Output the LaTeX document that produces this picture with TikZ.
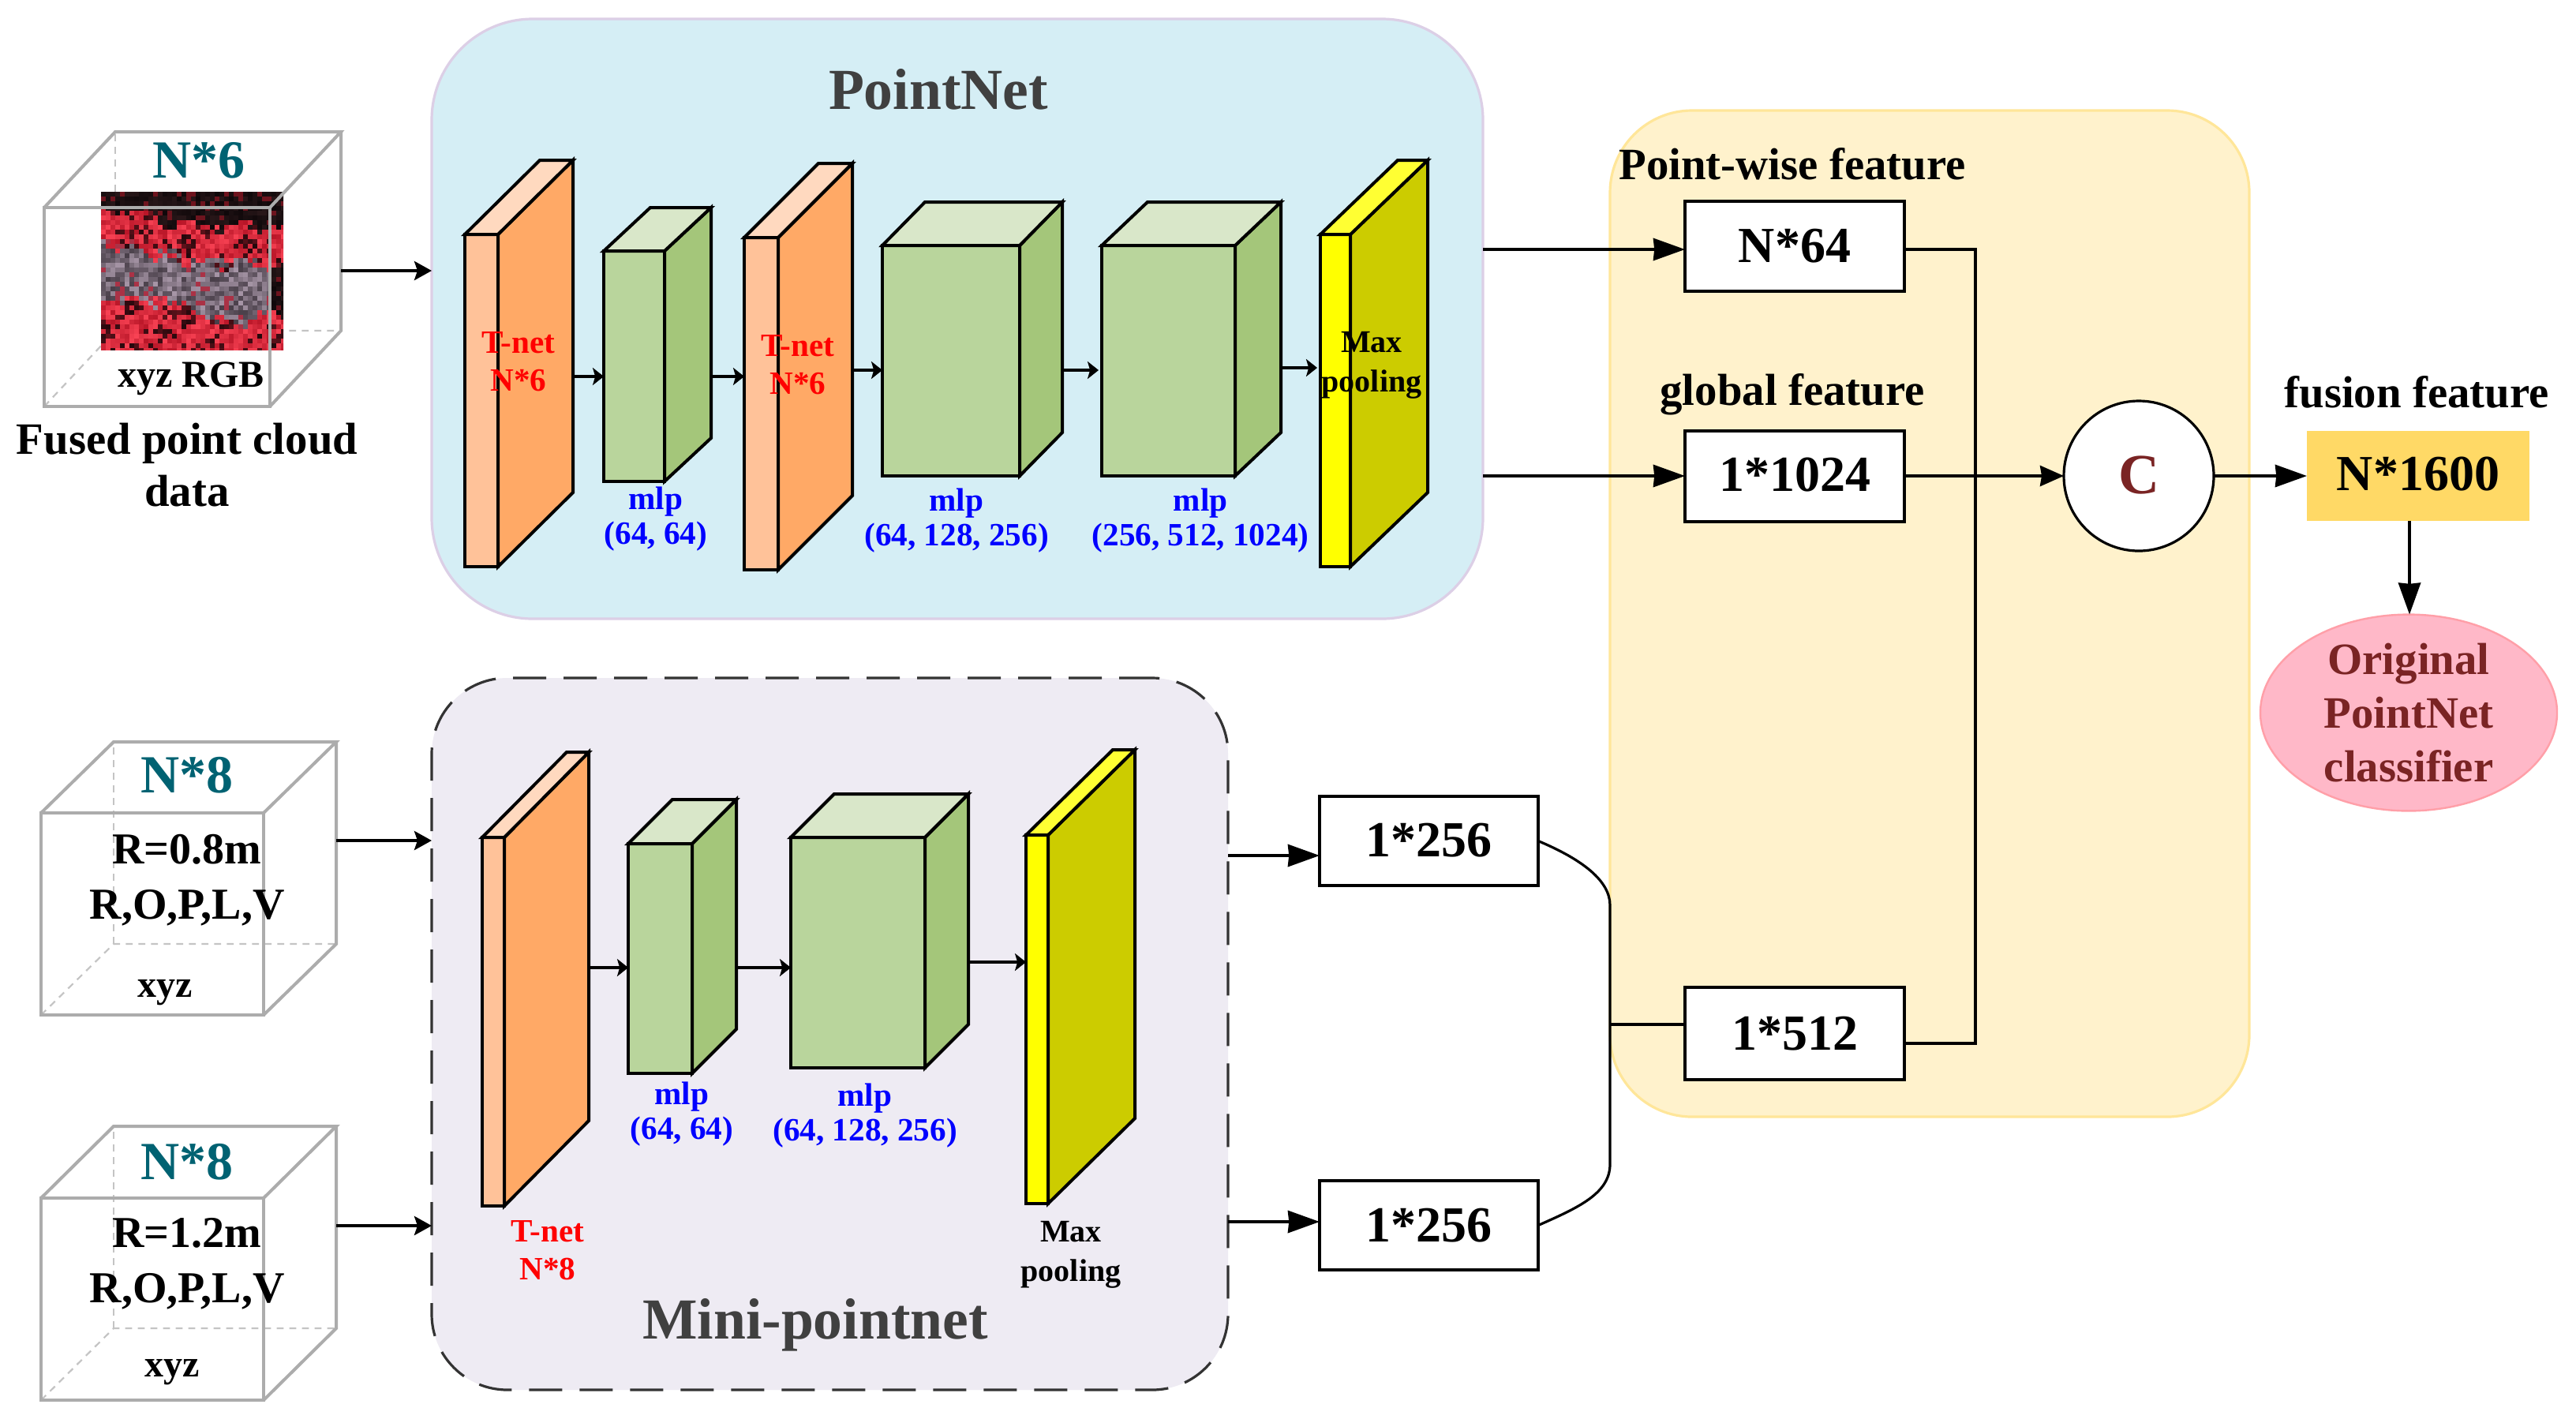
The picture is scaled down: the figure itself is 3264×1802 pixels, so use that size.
\documentclass[tikz,border=0pt]{standalone}
\usepackage{fontspec}
\setmainfont{Liberation Serif}
\usetikzlibrary{arrows.meta,shapes.geometric}
\definecolor{TF}{HTML}{FFC299}\definecolor{TS}{HTML}{FFA966}\definecolor{TT}{HTML}{FFD9BF}
\definecolor{MF}{HTML}{B9D59C}\definecolor{MS}{HTML}{A4C67A}\definecolor{MT}{HTML}{D9E7C9}
\definecolor{YF}{HTML}{FFFF00}\definecolor{YS}{HTML}{CCCC00}\definecolor{YT}{HTML}{FFFF33}
\definecolor{cubegrey}{HTML}{ACACAC}
\definecolor{cubefaint}{HTML}{C4C4C4}
\definecolor{teal6}{HTML}{006272}
\definecolor{darkred}{HTML}{7A2424}
\definecolor{panelyellow}{HTML}{FFF2CC}\definecolor{edgeyellow}{HTML}{FFE699}
\definecolor{panelblue}{HTML}{D5EEF5}\definecolor{edgelilac}{HTML}{DCCFE6}
\definecolor{panelmini}{HTML}{EEEBF3}
\definecolor{fusegold}{HTML}{FFD966}
\definecolor{pinkfill}{HTML}{FFB8C8}\definecolor{pinkedge}{HTML}{FF9FA8}
\newcommand{\fs}[2]{\fontsize{#1}{#2}\selectfont\bfseries}
\tikzset{
  x=0.25pt,y=-0.25pt,
  bbox/.style={inner sep=0pt,outer sep=0pt,draw=none},
  face/.style={draw=black,line width=1pt,line join=miter},
  cubeline/.style={draw=cubegrey,line width=1pt},
  cubedash/.style={draw=cubefaint,line width=0.55pt,dash pattern=on 2.2pt off 1.8pt},
  featbox/.style={draw=black,fill=white,line width=1.1pt,inner sep=0pt,outer sep=0pt,font=\fs{16}{19}},
  conn/.style={draw=black,line width=1pt},
  bigarrow/.style={conn,-{Stealth[length=10pt,width=7pt,inset=0.3pt]}},
  midarrow/.style={conn,-{Stealth[length=5.5pt,width=6pt,inset=1pt]}},
  tinyarrow/.style={conn,-{Stealth[length=3.5pt,width=5.5pt,inset=0.8pt]}},
  cubelabel/.style={inner sep=0pt,font=\fs{17}{20},text=teal6},
  blacklbl/.style={inner sep=0pt,align=center,font=\fs{14.2}{16.5}},
  smalllbl/.style={inner sep=0pt,align=center,font=\fs{12}{14}},
  tnetlbl/.style={inner sep=0pt,align=center,text=red,font=\fs{10.3}{12}},
  mlplbl/.style={inner sep=0pt,align=center,text=blue,font=\fs{10.3}{11}},
  poollbl/.style={inner sep=0pt,align=center,text=black,font=\fs{10}{12.5}},
  titlelbl/.style={inner sep=0pt,text=black!75,font=\fs{18.4}{22}},
}
% name, x, y (front top-left), w, h, dx, dy, palette
\newcommand{\prism}[8]{%
  \path[face,fill=#8F] (#2,#3) rectangle ({#2+#4},{#3+#5});
  \path[face,fill=#8S] ({#2+#4},#3) -- ({#2+#4+#6},{#3-#7}) -- ({#2+#4+#6},{#3+#5-#7}) -- ({#2+#4},{#3+#5}) -- cycle;
  \path[face,fill=#8T] (#2,#3) -- ({#2+#6},{#3-#7}) -- ({#2+#4+#6},{#3-#7}) -- ({#2+#4},#3) -- cycle;
  \node[bbox,minimum width={(#4+#6)*0.25pt},minimum height={(#5+#7)*0.25pt}] (#1) at ({#2+(#4+#6)/2},{#3+(#5-#7)/2}) {};
}
% back lines of a wire cube: x, y (front top-left), w, h, dx, dy
\newcommand{\cubeback}[6]{%
  \path[cubedash] (#1,{#2+#4}) -- ({#1+#5},{#2+#4-#6}) -- ({#1+#3+#5},{#2+#4-#6});
  \path[cubedash] ({#1+#5},{#2+#4-#6}) -- ({#1+#5},{#2-#6});
}
% name, x, y, w, h, dx, dy
\newcommand{\cubefront}[7]{%
  \path[cubeline,line join=miter] (#2,#3) rectangle ({#2+#4},{#3+#5});
  \path[cubeline,line join=miter] (#2,#3) -- ({#2+#6},{#3-#7}) -- ({#2+#4+#6},{#3-#7}) -- ({#2+#4},#3);
  \path[cubeline,line join=miter] ({#2+#4+#6},{#3-#7}) -- ({#2+#4+#6},{#3+#5-#7}) -- ({#2+#4},{#3+#5});
  \node[bbox,minimum width={(#4+#6)*0.25pt},minimum height={(#5+#7)*0.25pt}] (#1) at ({#2+(#4+#6)/2},{#3+(#5-#7)/2}) {};
}
% name, x1, y1, x2, y2, options, text
\newcommand{\bx}[7]{%
  \node[#6,minimum width={(#4-#2)*0.25pt},minimum height={(#5-#3)*0.25pt}] (#1) at ({(#2+#4)/2},{(#3+#5)/2}) {#7};
}
\begin{document}
\begin{tikzpicture}
\useasboundingbox[fill=white] (0,0) rectangle (3264,1802);

% panels
\bx{yellowpanel}{2040}{140}{2850}{1415}{bbox,draw=edgeyellow,fill=panelyellow,line width=0.8pt,rounded corners=26pt}{}
\bx{pointnetpanel}{547}{24}{1879}{784}{bbox,draw=edgelilac,fill=panelblue,line width=0.8pt,rounded corners=32pt}{}
\bx{minipanel}{547}{859}{1556}{1761}{bbox,draw=black!80,fill=panelmini,line width=0.8pt,dash pattern=on 10.5pt off 5.5pt,rounded corners=24pt}{}

% input cubes
\cubeback{56}{263}{286}{252}{90}{96}
\begin{scope}
  \clip (128,243) rectangle (359,443);
  \fill[black] (128,243) rectangle (359,443);
  \pgfmathsetseed{11}
  \foreach \ci in {0,...,38}{\foreach \cj in {0,...,33}{%
    \pgfmathsetmacro\uu{\ci/38}\pgfmathsetmacro\vv{\cj/33}
    \pgfmathsetmacro\vn{\vv+0.09*(rnd-0.5)}
    \pgfmathsetmacro\vt{0.08+0.12*min(\uu/0.4,1)+0.03*sin(\uu*1300)}
    \pgfmathsetmacro\gt{0.30+0.13*min(\uu/0.45,1)+0.03*max(\uu-0.45,0)+0.03*sin(\uu*1700)}
    \pgfmathsetmacro\gb{min(0.67+max(\uu-0.28,0)*0.36,0.83-max(\uu-0.74,0)*0.3)+0.03*sin(\uu*1500)}
    \pgfmathtruncatemacro\cat{ifthenelse(\vn<\vt,0,ifthenelse(\vn<\gt,1,ifthenelse(\vn<\gb,2,1)))}
    \pgfmathtruncatemacro\cat{ifthenelse(\uu>0.94 && \cat==2,0,\cat)}
    \pgfmathsetmacro\rr{rnd}\pgfmathsetmacro\rs{rnd}
    \pgfmathsetmacro\pdark{0.2+0.16*sin(\uu*1100+\vv*900)}
    \ifcase\cat
      \pgfmathtruncatemacro\cellR{ifthenelse(\rr<0.14,110,15+25*\rs)}
      \pgfmathtruncatemacro\cellG{ifthenelse(\rr<0.14,20,8+15*\rs)}
      \pgfmathtruncatemacro\cellB{ifthenelse(\rr<0.14,30,10+15*\rs)}
    \or
      \pgfmathtruncatemacro\cellR{ifthenelse(\rr<\pdark,35+60*\rs,185+65*\rs)}
      \pgfmathtruncatemacro\cellG{ifthenelse(\rr<\pdark,8+10*\rs,22+45*\rs)}
      \pgfmathtruncatemacro\cellB{ifthenelse(\rr<\pdark,12+15*\rs,40+45*\rs)}
    \or
      \pgfmathtruncatemacro\cellR{ifthenelse(\rr<0.08,170,72+95*\rs)}
      \pgfmathtruncatemacro\cellG{ifthenelse(\rr<0.08,50,62+88*\rs)}
      \pgfmathtruncatemacro\cellB{ifthenelse(\rr<0.08,70,72+95*\rs)}
    \fi
    \definecolor{cellc}{RGB}{\cellR,\cellG,\cellB}
    \fill[cellc] ({128+6*\ci},{243+6*\cj}) rectangle ({128+6*\ci+6.4},{243+6*\cj+6.4});
  }}
\end{scope}
\cubefront{cubeA}{56}{263}{286}{252}{90}{96}
\cubeback{52}{1030}{282}{256}{92}{90}
\cubefront{cubeB}{52}{1030}{282}{256}{92}{90}
\cubeback{52}{1518}{282}{256}{92}{91}
\cubefront{cubeC}{52}{1518}{282}{256}{92}{91}

\node[cubelabel] (lblN6) at (252,203) {N*6};
\node[smalllbl] (lblxyzrgb) at (242,480) {xyz RGB};
\node[blacklbl] (lblfused) at (237,589) {Fused point cloud\\data};
\node[cubelabel] (lblN8a) at (237,982) {N*8};
\node[blacklbl,font=\fs{14}{17.5}] (lblRa) at (237,1115) {R=0.8m\\R,O,P,L,V};
\node[smalllbl] (lblxyza) at (209,1258) {xyz};
\node[cubelabel] (lblN8b) at (237,1472) {N*8};
\node[blacklbl,font=\fs{14}{17.5}] (lblRb) at (237,1601) {R=1.2m\\R,O,P,L,V};
\node[smalllbl] (lblxyzb) at (218,1739) {xyz};

% PointNet
\prism{tA}{589}{297}{42}{421}{95}{94}{T}
\prism{mA}{765}{318}{77}{292}{59}{55}{M}
\prism{tB}{943}{301}{43}{421}{94}{94}{T}
\prism{mB}{1118}{311}{174}{292}{54}{55}{M}
\prism{mC}{1396}{311}{169}{292}{58}{55}{M}
\prism{pA}{1673}{297}{38}{421}{98}{94}{Y}
\node[titlelbl] (lblpn) at (1189,113) {PointNet};
\node[tnetlbl] (lblta) at (657,458) {T-net\\N*6};
\node[tnetlbl] (lbltb) at (1011,462) {T-net\\N*6};
\node[mlplbl] (lblma) at (831,658) {mlp\\(64, 64)};
\node[mlplbl] (lblmb) at (1212,660) {mlp\\(64, 128, 256)};
\node[mlplbl] (lblmc) at (1521,660) {mlp\\(256, 512, 1024)};
\node[poollbl] (lblpa) at (1738,463) {Max\\pooling};

% Mini-pointnet
\prism{tC}{611}{1061}{28}{467}{107}{108}{T}
\prism{mD}{796}{1069}{81}{291}{56}{56}{M}
\prism{mE}{1002}{1061}{170}{292}{55}{55}{M}
\prism{pB}{1300}{1058}{28}{467}{110}{108}{Y}
\node[titlelbl] (lblmini) at (1033,1679) {Mini-pointnet};
\node[tnetlbl] (lbltc) at (694,1584) {T-net\\N*8};
\node[mlplbl] (lblmd) at (864,1412) {mlp\\(64, 64)};
\node[mlplbl] (lblme) at (1096,1414) {mlp\\(64, 128, 256)};
\node[poollbl] (lblpb) at (1357,1590) {Max\\pooling};

% feature boxes
\bx{b64}{2135}{255}{2413}{369}{featbox}{N*64}
\bx{b1024}{2135}{546}{2413}{661}{featbox}{\raisebox{1.4pt}{1*1024}}
\bx{b512}{2135}{1251}{2413}{1368}{featbox}{\raisebox{0.3pt}{1*512}}
\bx{b256a}{1672}{1009}{1949}{1122}{featbox}{\raisebox{0.7pt}{1*256}}
\bx{b256b}{1672}{1496}{1949}{1609}{featbox}{\raisebox{0.3pt}{1*256}}
\bx{bfuse}{2923}{546}{3205}{660}{featbox,draw=none,fill=fusegold}{\raisebox{1.4pt}{N*1600}}
\node[draw=black,fill=white,circle,line width=0.8pt,inner sep=0pt,outer sep=0pt,minimum size=47.5pt,text=darkred,font=\fs{18}{20}] (concat) at (2710,603) {\raisebox{0.6pt}{C}};
\node[draw=pinkedge,fill=pinkfill,ellipse,line width=0.6pt,inner sep=0pt,outer sep=0pt,minimum width=94pt,minimum height=62pt,align=center,text=darkred,font=\fs{14.2}{17}] (classifier) at (3052,903) {Original\\PointNet\\classifier};
\node[blacklbl] (lblpw) at (2271,208) {Point-wise feature};
\node[blacklbl] (lblgf) at (2271,500) {global feature};
\node[blacklbl] (lblff) at (3062,497) {fusion feature};

% levels for connectors
\coordinate (lvA) at (0,343);
\coordinate (lvB) at (0,477);
\coordinate (lvC) at (0,469);
\coordinate (lvD) at (0,466);
\coordinate (lvE) at (0,316);
\coordinate (lvF) at (0,603);
\coordinate (lvG) at (0,1065);
\coordinate (lvH) at (0,1553);
\coordinate (lvI) at (0,1226);
\coordinate (lvJ) at (0,1219);
\coordinate (lvK) at (0,1084);
\coordinate (lvL) at (0,1548);
\coordinate (lvM) at (0,1298);
\coordinate (lvN) at (0,1322);
\coordinate (colX) at (2503,0);
\coordinate (colY) at (3053,0);
\coordinate (trunkA) at (2040,1147);
\coordinate (trunkB) at (2040,1475);

\draw[midarrow] (cubeA.east |- lvA) -- (pointnetpanel.west |- lvA);
\draw[tinyarrow] (tA.east |- lvB) -- (mA.west |- lvB);
\draw[tinyarrow] (mA.east |- lvB) -- (tB.west |- lvB);
\draw[tinyarrow] (tB.east |- lvC) -- (mB.west |- lvC);
\draw[tinyarrow] (mB.east |- lvC) -- ([xshift=-1pt]mC.west |- lvC);
\draw[tinyarrow] (mC.east |- lvD) -- ([xshift=-1pt]pA.west |- lvD);
\draw[bigarrow] (pointnetpanel.east |- lvE) -- (b64.west |- lvE);
\draw[bigarrow] (pointnetpanel.east |- lvF) -- (b1024.west |- lvF);
\draw[conn] (b64.east |- lvE) -- (colX |- lvE) -- (colX |- lvN) -- (b512.east |- lvN);
\draw[conn,-{Stealth[length=7.5pt,width=6.5pt,inset=0.5pt]}] (b1024.east |- lvF) -- (concat.west);
\draw[bigarrow] (concat.east) -- (bfuse.west |- lvF);
\draw[bigarrow] (colY |- bfuse.south) -- (colY |- classifier.north);
\draw[midarrow] (cubeB.east |- lvG) -- (minipanel.west |- lvG);
\draw[midarrow] (cubeC.east |- lvH) -- (minipanel.west |- lvH);
\draw[tinyarrow] (tC.east |- lvI) -- (mD.west |- lvI);
\draw[tinyarrow] (mD.east |- lvI) -- (mE.west |- lvI);
\draw[tinyarrow] (mE.east |- lvJ) -- (pB.west |- lvJ);
\draw[bigarrow] (minipanel.east |- lvK) -- (b256a.west |- lvK);
\draw[bigarrow] (minipanel.east |- lvL) -- (b256b.west |- lvL);
\draw[conn,line width=0.8pt] (b256a.east) .. controls (2005,1089) and (2040,1116) .. (trunkA) -- (trunkB) .. controls (2040,1512) and (2000,1530) .. (b256b.east);
\draw[conn] (trunkA |- lvM) -- (b512.west |- lvM);
\end{tikzpicture}
\end{document}
